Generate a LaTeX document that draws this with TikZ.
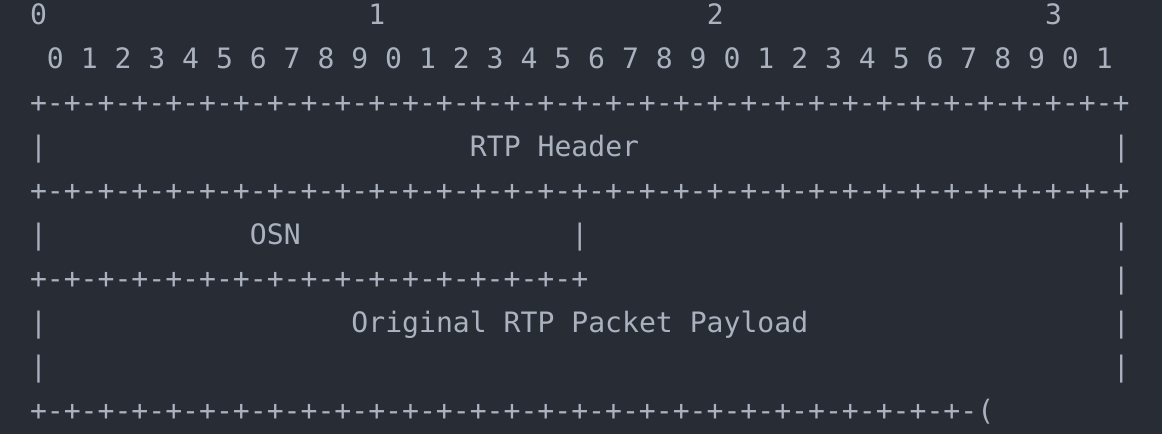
\documentclass[tikz,border=0pt]{standalone}
\usepackage{fontspec}
\setmonofont{DejaVu Sans Mono}
\definecolor{bgc}{HTML}{282C34}
\definecolor{fgc}{HTML}{ABB2BF}
\newcommand\pluspairs[1]{\foreach \i in {1,...,#1}{+-}}
\begin{document}
\begin{tikzpicture}[x=1pt,y=1pt,
  txt/.style={anchor=base west,inner sep=0pt,outer sep=0pt,text=fgc,font=\ttfamily\fontsize{28.1}{30}\selectfont}]
\fill[bgc] (0,0) rectangle (1162,-434);
\useasboundingbox (0,0) rectangle (1162,-434);
\def\cw{16.92}
% row 0
\node[txt] (h0) at ({30+\cw*0},-24) {0};
\node[txt] (h1) at ({30+\cw*20},-24) {1};
\node[txt] (h2) at ({30+\cw*40},-24) {2};
\node[txt] (h3) at ({30+\cw*60},-24) {3};
% row 1
\node[txt] (bits) at ({30+\cw*1},-68) {0 1 2 3 4 5 6 7 8 9 0 1 2 3 4 5 6 7 8 9 0 1 2 3 4 5 6 7 8 9 0 1};
% row 2
\node[txt] (l2) at ({30},-112) {\pluspairs{32}+};
% row 3
\node[txt] (p3a) at ({30},-156) {|};
\node[txt] (rtp) at ({30+\cw*26},-156) {RTP Header};
\node[txt] (p3b) at ({30+\cw*64},-156) {|};
% row 4
\node[txt] (l4) at ({30},-200) {\pluspairs{32}+};
% row 5
\node[txt] (p5a) at ({30},-244) {|};
\node[txt] (osn) at ({30+\cw*13},-244) {OSN};
\node[txt] (p5b) at ({30+\cw*32},-244) {|};
\node[txt] (p5c) at ({30+\cw*64},-244) {|};
% row 6
\node[txt] (l6) at ({30},-288) {\pluspairs{16}+};
\node[txt] (p6c) at ({30+\cw*64},-288) {|};
% row 7
\node[txt] (p7a) at ({30},-332) {|};
\node[txt] (pay) at ({30+\cw*19},-332) {Original RTP Packet Payload};
\node[txt] (p7c) at ({30+\cw*64},-332) {|};
% row 8
\node[txt] (p8a) at ({30},-376) {|};
\node[txt] (p8c) at ({30+\cw*64},-376) {|};
% row 9
\node[txt] (l9) at ({30},-420) {\pluspairs{28}(};
\end{tikzpicture}
\end{document}
